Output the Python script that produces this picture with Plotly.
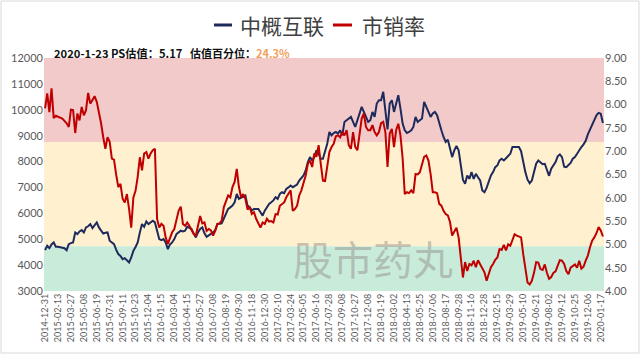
import plotly.graph_objects as go

# ---------------- data ----------------
tick_labels = [
    "2014-12-31", "2015-02-13", "2015-03-27", "2015-05-08", "2015-06-19", "2015-07-31",
    "2015-09-11", "2015-10-23", "2015-12-04", "2016-01-15", "2016-03-04", "2016-04-15",
    "2016-05-27", "2016-07-08", "2016-08-19", "2016-09-30", "2016-11-18", "2016-12-30",
    "2017-02-10", "2017-03-24", "2017-05-05", "2017-06-16", "2017-07-28", "2017-09-08",
    "2017-10-27", "2017-12-08", "2018-01-19", "2018-03-02", "2018-04-13", "2018-05-25",
    "2018-07-06", "2018-08-17", "2018-09-28", "2018-11-16", "2018-12-28", "2019-02-15",
    "2019-03-29", "2019-05-10", "2019-06-21", "2019-08-02", "2019-09-12", "2019-10-25",
    "2019-12-06", "2020-01-17",
]

# 中概互联 index (left axis), weekly
index_values = [
    4578, 4745, 4655, 4800, 4875, 4707, 4707, 4690, 4680, 4655,
    4578, 4810, 4850, 4875, 5262, 5197, 5300, 5353, 5262, 5456,
    5500, 5585, 5430, 5550, 5650, 5456, 5350, 5222, 5250, 5262,
    4940, 4875, 4810, 4600, 4423, 4358, 4230, 4268, 4164, 4100,
    4294, 4552, 4700, 4875, 5262, 5585, 5480, 5689, 5585, 5650,
    5715, 5650, 5328, 5005, 4967, 5005, 4876, 4618, 4800, 4876,
    5005, 5199, 5264, 5328, 5300, 5328, 5483, 5430, 5393, 5225,
    5070, 5264, 5400, 5457, 5225, 5095, 5150, 5199, 5264, 5354,
    5587, 5600, 5612, 5800, 5975, 6169, 6230, 6298, 6427, 6751,
    6557, 6600, 6621, 6686, 6298, 6233, 6104, 6169, 6169, 6169,
    6039, 5910, 6104, 6250, 6363, 6427, 6500, 6621, 6557, 6751,
    6815, 6776, 6945, 7000, 7074, 7009, 7074, 7112, 7268, 7350,
    7462, 7656, 7979, 8173, 8043, 8173, 8431, 8300, 8108, 8108,
    8431, 8690, 9143, 9013, 9100, 9143, 9078, 9207, 9013, 9530,
    9595, 9650, 9724, 9530, 9336, 9595, 9854, 10112, 9918, 9700,
    9530, 9595, 9918, 9724, 10242, 10371, 10371, 10694, 10000, 9240,
    10242, 10371, 9918, 10300, 10565, 10047, 9466, 9207, 9104, 9143,
    9207, 9337, 9724, 9530, 9600, 9660, 10306, 10112, 9854, 9724,
    9854, 9918, 9790, 9466, 9207, 8949, 8755, 8846, 8500, 8173,
    8431, 8600, 8431, 7914, 7300, 7139, 7462, 7333, 7591, 7333,
    7527, 7397, 7268, 6880, 6815, 6983, 7203, 7462, 7591, 7785,
    7850, 8043, 8108, 8043, 8130, 8199, 8302, 8560, 8561, 8535,
    8561, 8400, 7914, 7591, 7300, 7164, 7268, 7600, 7914, 8043,
    7979, 7900, 7914, 7656, 7450, 7720, 7850, 7979, 8200, 8276,
    8173, 7800, 7785, 7850, 7950, 8108, 8173, 8302, 8450, 8561,
    8664, 8800, 9052, 9233, 9400, 9595, 9789, 9880, 9850, 9492,
]

# 市销率 PS (right axis), weekly
ps_values = [
    7.92, 8.24, 7.84, 8.35, 7.71, 7.76, 7.74, 7.72, 7.70, 7.65,
    7.60, 7.52, 7.89, 7.88, 7.39, 7.81, 7.66, 7.95, 7.77, 7.88,
    8.25, 8.02, 8.10, 8.18, 8.06, 7.84, 7.60, 7.30, 7.05, 7.30,
    7.20, 6.84, 6.82, 6.50, 6.23, 6.30, 5.98, 5.90, 6.08, 5.76,
    5.36, 6.01, 6.15, 6.45, 6.87, 6.59, 6.95, 6.98, 6.84, 6.95,
    7.02, 7.05, 5.55, 5.36, 5.44, 5.40, 5.15, 5.01, 5.15, 5.26,
    5.33, 5.51, 5.72, 5.81, 5.44, 5.40, 5.47, 5.40, 5.30, 5.22,
    5.19, 5.44, 5.61, 5.45, 5.47, 5.29, 5.33, 5.30, 5.19, 5.29,
    5.44, 5.45, 5.51, 5.80, 5.94, 6.05, 6.01, 6.23, 6.34, 6.62,
    6.23, 6.01, 6.08, 5.98, 5.75, 5.80, 5.65, 5.69, 5.55, 5.44,
    5.36, 5.47, 5.44, 5.55, 5.49, 5.50, 5.47, 5.65, 5.64, 5.83,
    5.87, 5.90, 6.01, 6.10, 6.16, 5.72, 5.76, 5.83, 6.05, 6.16,
    6.30, 6.48, 6.73, 6.80, 6.66, 6.95, 6.88, 7.13, 6.73, 6.37,
    6.36, 6.73, 6.98, 7.09, 7.16, 7.32, 7.34, 7.30, 7.41, 7.34,
    7.45, 7.13, 7.05, 7.41, 7.09, 7.02, 7.41, 7.70, 7.81, 7.52,
    7.45, 7.45, 7.56, 7.41, 7.34, 7.41, 7.60, 7.63, 7.41, 6.66,
    7.38, 7.48, 7.09, 7.45, 7.59, 7.34, 6.85, 6.08, 6.12, 6.10,
    6.16, 6.10, 6.51, 6.50, 6.55, 6.70, 6.88, 6.91, 6.80, 6.51,
    6.12, 6.12, 6.10, 5.87, 5.83, 5.72, 5.65, 5.62, 5.48, 5.19,
    5.29, 5.36, 5.15, 4.72, 4.29, 4.62, 4.43, 4.58, 4.55, 4.65,
    4.51, 4.66, 4.58, 4.48, 4.40, 4.22, 4.36, 4.51, 4.58, 4.67,
    4.72, 4.90, 4.88, 4.99, 4.87, 5.00, 4.97, 5.08, 5.22, 5.19,
    5.17, 5.15, 4.79, 4.50, 4.18, 4.14, 4.22, 4.39, 4.62, 4.61,
    4.47, 4.45, 4.57, 4.39, 4.26, 4.30, 4.39, 4.42, 4.55, 4.66,
    4.65, 4.58, 4.43, 4.36, 4.50, 4.53, 4.57, 4.50, 4.65, 4.48,
    4.52, 4.65, 4.76, 4.94, 5.08, 5.15, 5.24, 5.37, 5.30, 5.17,
]

series_names = ["中概互联", "市销率"]
band_high = 7.2      # PS level: upper valuation band
band_low = 4.96      # PS level: lower valuation band
latest_date = "2020-1-23"
latest_ps = "5.17"
latest_percentile = "24.3%"
watermark = "股市药丸"

# ---------------- layout helpers ----------------
W, H = 640, 355
L, R, T, B = 44, 36, 58, 64
PW = W - L - R
PH = H - T - B


def px(x):
    return (x - L) / PW


def py(y):
    return (H - B - y) / PH


NAVY = "#1f2a5c"
RED = "#c00000"
TICK_COLOR = "#595959"
CJK = "Noto Sans CJK SC"
LAT = "Lato"

x = list(range(len(ps_values)))
tickvals = [i * 6 for i in range(len(tick_labels))]

fig = go.Figure()
fig.add_trace(go.Scatter(x=x, y=index_values, mode="lines", name=series_names[0],
                         line=dict(color=NAVY, width=2), yaxis="y", hoverinfo="skip"))
fig.add_trace(go.Scatter(x=x, y=ps_values, mode="lines", name=series_names[1],
                         line=dict(color=RED, width=2), yaxis="y2", hoverinfo="skip"))

# valuation bands
bands = [(band_high, 9, "#F2CACA"), (band_low, band_high, "#FFF1CF"), (4, band_low, "#C9ECDA")]
for y0, y1, c in bands:
    fig.add_shape(type="rect", xref="paper", yref="y2", x0=0, x1=1, y0=y0, y1=y1,
                  fillcolor=c, line_width=0, layer="below")

# outer border
fig.add_shape(type="rect", xref="paper", yref="paper", x0=px(1), x1=px(639), y0=py(353), y1=py(1),
              line=dict(color="#D9D9D9", width=1), fillcolor="rgba(0,0,0,0)", layer="above")

# custom legend
fig.add_shape(type="line", xref="paper", yref="paper", x0=px(214), x1=px(232), y0=py(25), y1=py(25),
              line=dict(color=NAVY, width=3))
fig.add_shape(type="line", xref="paper", yref="paper", x0=px(333), x1=px(352), y0=py(25), y1=py(25),
              line=dict(color=RED, width=3))

annotations = [
    dict(text=series_names[0], x=px(238), y=py(25), xanchor="left", yanchor="middle",
         font=dict(family=CJK, size=21, color="#404040")),
    dict(text=series_names[1], x=px(360), y=py(25), xanchor="left", yanchor="middle",
         font=dict(family=CJK, size=21, color="#404040")),
    dict(text=f"<b>{latest_date} PS估值：{latest_ps}</b>", x=px(52), y=py(52.5),
         xanchor="left", yanchor="middle", font=dict(family=CJK, size=11.2, color="#111111")),
    dict(text=f"<b>估值百分位：<span style='color:#EFA05A'>{latest_percentile}</span></b>",
         x=px(188), y=py(52.5), xanchor="left", yanchor="middle",
         font=dict(family=CJK, size=11, color="#111111")),
    dict(text=watermark, x=px(373), y=py(258), xanchor="center", yanchor="middle",
         font=dict(family=CJK, size=40, color="rgba(150,145,140,0.5)")),
]
for a in annotations:
    a.update(xref="paper", yref="paper", showarrow=False)

fig.update_layout(
    template="none",
    width=W, height=H,
    margin=dict(l=L, r=R, t=T, b=B, pad=0),
    paper_bgcolor="white", plot_bgcolor="white",
    showlegend=False,
    annotations=annotations,
    xaxis=dict(range=[-0.5, len(x) - 0.5], tickmode="array", tickvals=tickvals, ticktext=tick_labels,
               tickangle=-90, tickfont=dict(family=LAT, size=9, color=TICK_COLOR),
               showgrid=False, zeroline=False, showline=False, ticks="", automargin=False),
    yaxis=dict(range=[3000, 12000], tick0=3000, dtick=1000, tickformat="d",
               tickfont=dict(family=LAT, size=11, color=TICK_COLOR),
               showgrid=False, zeroline=False, showline=False, ticks="", automargin=False),
    yaxis2=dict(range=[4, 9], tick0=4, dtick=0.5, tickformat=".2f", overlaying="y", side="right",
                tickfont=dict(family=LAT, size=11, color=TICK_COLOR),
                showgrid=False, zeroline=False, showline=False, ticks="", automargin=False),
)

fig.write_html("out.html", config={"displayModeBar": False},
               post_script="document.body.style.margin='0';document.body.style.padding='0';")
